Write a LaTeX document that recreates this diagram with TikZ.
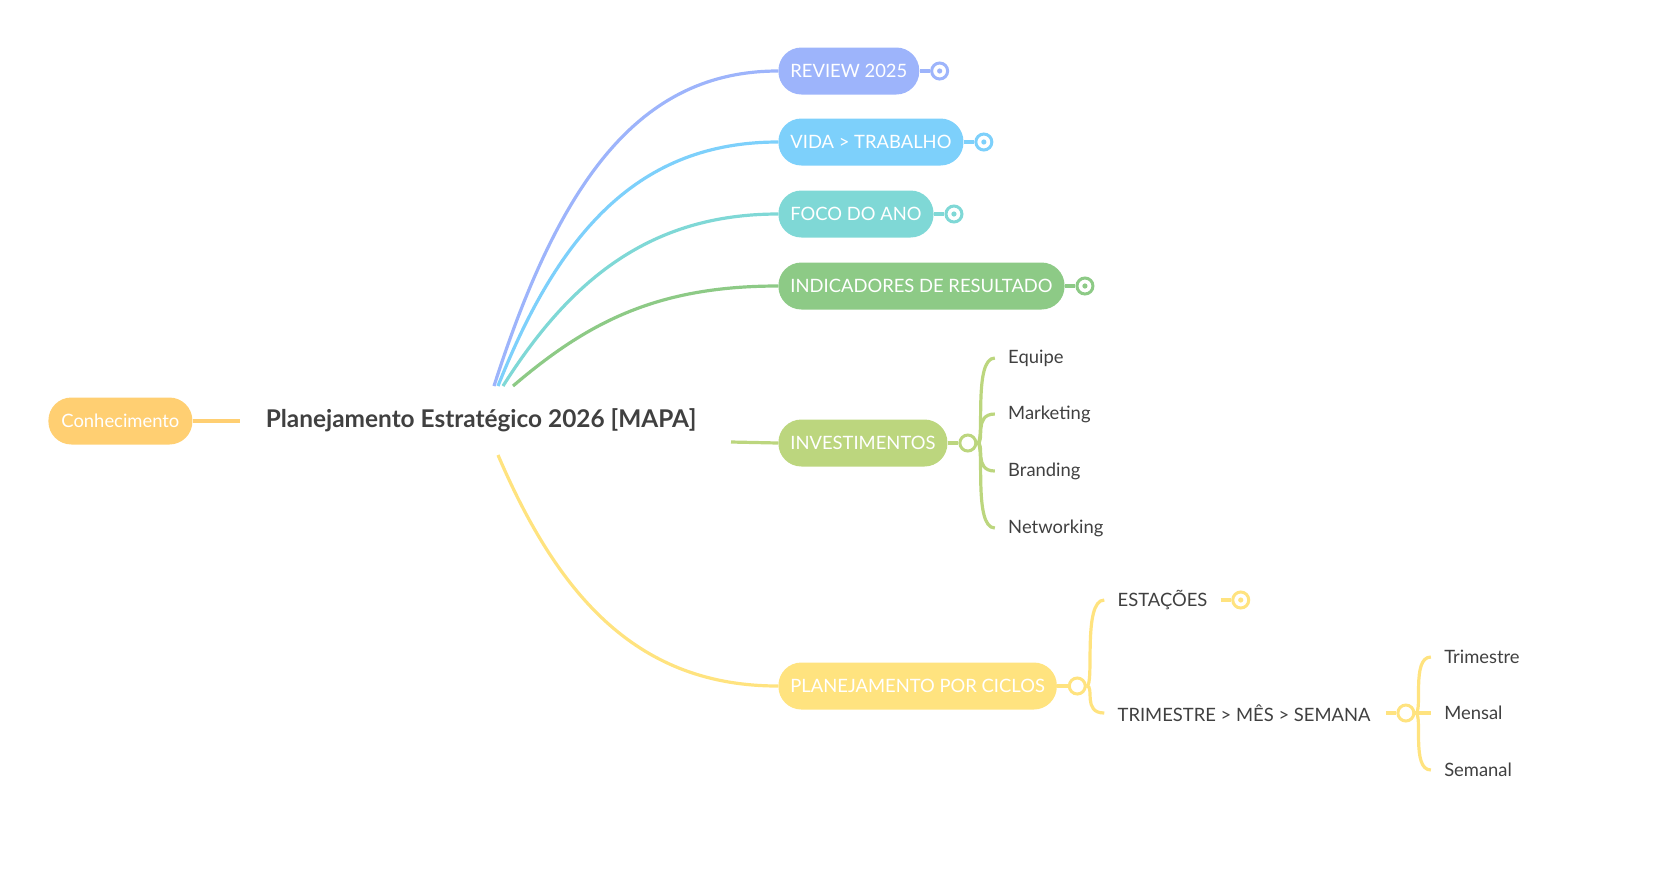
\documentclass[tikz,border=0pt]{standalone}
\usepackage{fontspec}
\setmainfont{Lato}
\usetikzlibrary{calc}
\begin{document}
\begin{tikzpicture}[x=0.5pt,y=-0.5pt,
  pill/.style={rounded corners=11.5pt,text=white,font=\fontsize{9.2}{11}\selectfont,anchor=west,minimum height=23.5pt,inner xsep=6pt},
  leaf/.style={text=black!75,font=\fontsize{9.2}{11}\selectfont,anchor=west,inner sep=0pt},
  conn/.style={line width=1.6pt},
  mark/.style={circle,draw=#1,fill=white,line width=1.5pt,minimum size=8pt,inner sep=0pt,path picture={\fill[#1] (path picture bounding box.center) circle (1.3pt);}},
  junc/.style={circle,draw=#1,fill=white,line width=1.5pt,minimum size=8pt,inner sep=0pt}]
\definecolor{cRev}{HTML}{9DB4FB}
\definecolor{cVid}{HTML}{7DD0FB}
\definecolor{cFoc}{HTML}{7FD8D6}
\definecolor{cInd}{HTML}{8DCA86}
\definecolor{cInv}{HTML}{BCD67E}
\definecolor{cPla}{HTML}{FFE37F}
\definecolor{cCon}{HTML}{FFCF72}
\useasboundingbox (0,0) rectangle (1657,890);
% center
\node[font=\bfseries\fontsize{12.2}{14}\selectfont,text=black!75] (title) at (481,420) {Planejamento Estratégico 2026 [MAPA]};
\coordinate (sR) at (494,386);
\coordinate (sV) at (498,386);
\coordinate (sF) at (503,386);
\coordinate (sI) at (513,386);
\coordinate (sInv) at (731,442);
\coordinate (sP) at (498,455);
\coordinate (sC) at (240,421);
% Conhecimento
\node[pill,fill=cCon,minimum width=72pt] (con) at (48,421) {Conhecimento};
\draw[conn,cCon] (con.east) -- (sC);
% pills
\node[pill,fill=cRev] (rev) at (778,71) {REVIEW 2025};
\node[pill,fill=cVid] (vid) at (778,142) {VIDA > TRABALHO};
\node[pill,fill=cFoc] (foc) at (778,214) {FOCO DO ANO};
\node[pill,fill=cInd] (ind) at (778,286) {INDICADORES DE RESULTADO};
\node[pill,fill=cInv] (inv) at (778,443) {INVESTIMENTOS};
\node[pill,fill=cPla] (pla) at (778,686) {PLANEJAMENTO POR CICLOS};
\draw[conn,cRev] (sR) .. controls (560,180) and (640,71) .. (rev.west);
\draw[conn,cVid] (sV) .. controls (560,230) and (640,142) .. (vid.west);
\draw[conn,cFoc] (sF) .. controls (570,280) and (650,214) .. (foc.west);
\draw[conn,cInd] (sI) .. controls (590,320) and (660,286) .. (ind.west);
\draw[conn,cInv] (sInv) -- (inv.west);
\draw[conn,cPla] (sP) .. controls (560,600) and (640,686) .. (pla.west);
% markers
\node[mark=cRev] (mR) at ($(rev.east)+(20,0)$) {};
\node[mark=cVid] (mV) at ($(vid.east)+(20,0)$) {};
\node[mark=cFoc] (mF) at ($(foc.east)+(20,0)$) {};
\node[mark=cInd] (mI) at ($(ind.east)+(20,0)$) {};
\draw[conn,cRev] (rev.east) -- (mR);
\draw[conn,cVid] (vid.east) -- (mV);
\draw[conn,cFoc] (foc.east) -- (mF);
\draw[conn,cInd] (ind.east) -- (mI);
% investimentos children
\node[junc=cInv] (jInv) at ($(inv.east)+(20,0)$) {};
\draw[conn,cInv] (inv.east) -- (jInv);
\coordinate (lx) at ($(jInv)+(27,0)$);
\foreach \n/\t/\y in {eq/Equipe/358,mk/Marketing/414,br/Branding/471,nw/Networking/528}{
  \node[leaf] (\n) at ($(lx|-0,\y)+(13,0)$) {\t};
  \draw[conn,cInv] (jInv.east) .. controls ++(8,0) and ($(lx|-0,\y)+(-22,0)$) .. (lx|-0,\y);
}
% planejamento children
\node[junc=cPla] (jP) at ($(pla.east)+(20,0)$) {};
\draw[conn,cPla] (pla.east) -- (jP);
\coordinate (px) at ($(jP)+(27,0)$);
\node[leaf] (est) at ($(px|-0,600)+(13,0)$) {ESTAÇÕES};
\node[leaf] (tms) at ($(px|-0,713)+(13,0)$) {TRIMESTRE > MÊS > SEMANA};
\draw[conn,cPla] (jP.east) .. controls ++(8,0) and ($(px|-0,600)+(-22,0)$) .. (px|-0,600);
\draw[conn,cPla] (jP.east) .. controls ++(8,0) and ($(px|-0,713)+(-22,0)$) .. (px|-0,713);
\node[mark=cPla] (mE) at ($(est.east)+(33,0)$) {};
\draw[conn,cPla] ($(est.east)+(13,0)$) -- (mE);
\node[junc=cPla] (jT) at ($(tms.east)+(35,0)$) {};
\draw[conn,cPla] ($(tms.east)+(15,0)$) -- (jT);
\coordinate (tx) at ($(jT)+(25,0)$);
\foreach \n/\t/\y in {tr/Trimestre/657,me/Mensal/713,se/Semanal/770}{
  \node[leaf] (\n) at ($(tx|-0,\y)+(13,0)$) {\t};
  \draw[conn,cPla] (jT.east) .. controls ++(8,0) and ($(tx|-0,\y)+(-20,0)$) .. (tx|-0,\y);
}
\end{tikzpicture}
\end{document}
